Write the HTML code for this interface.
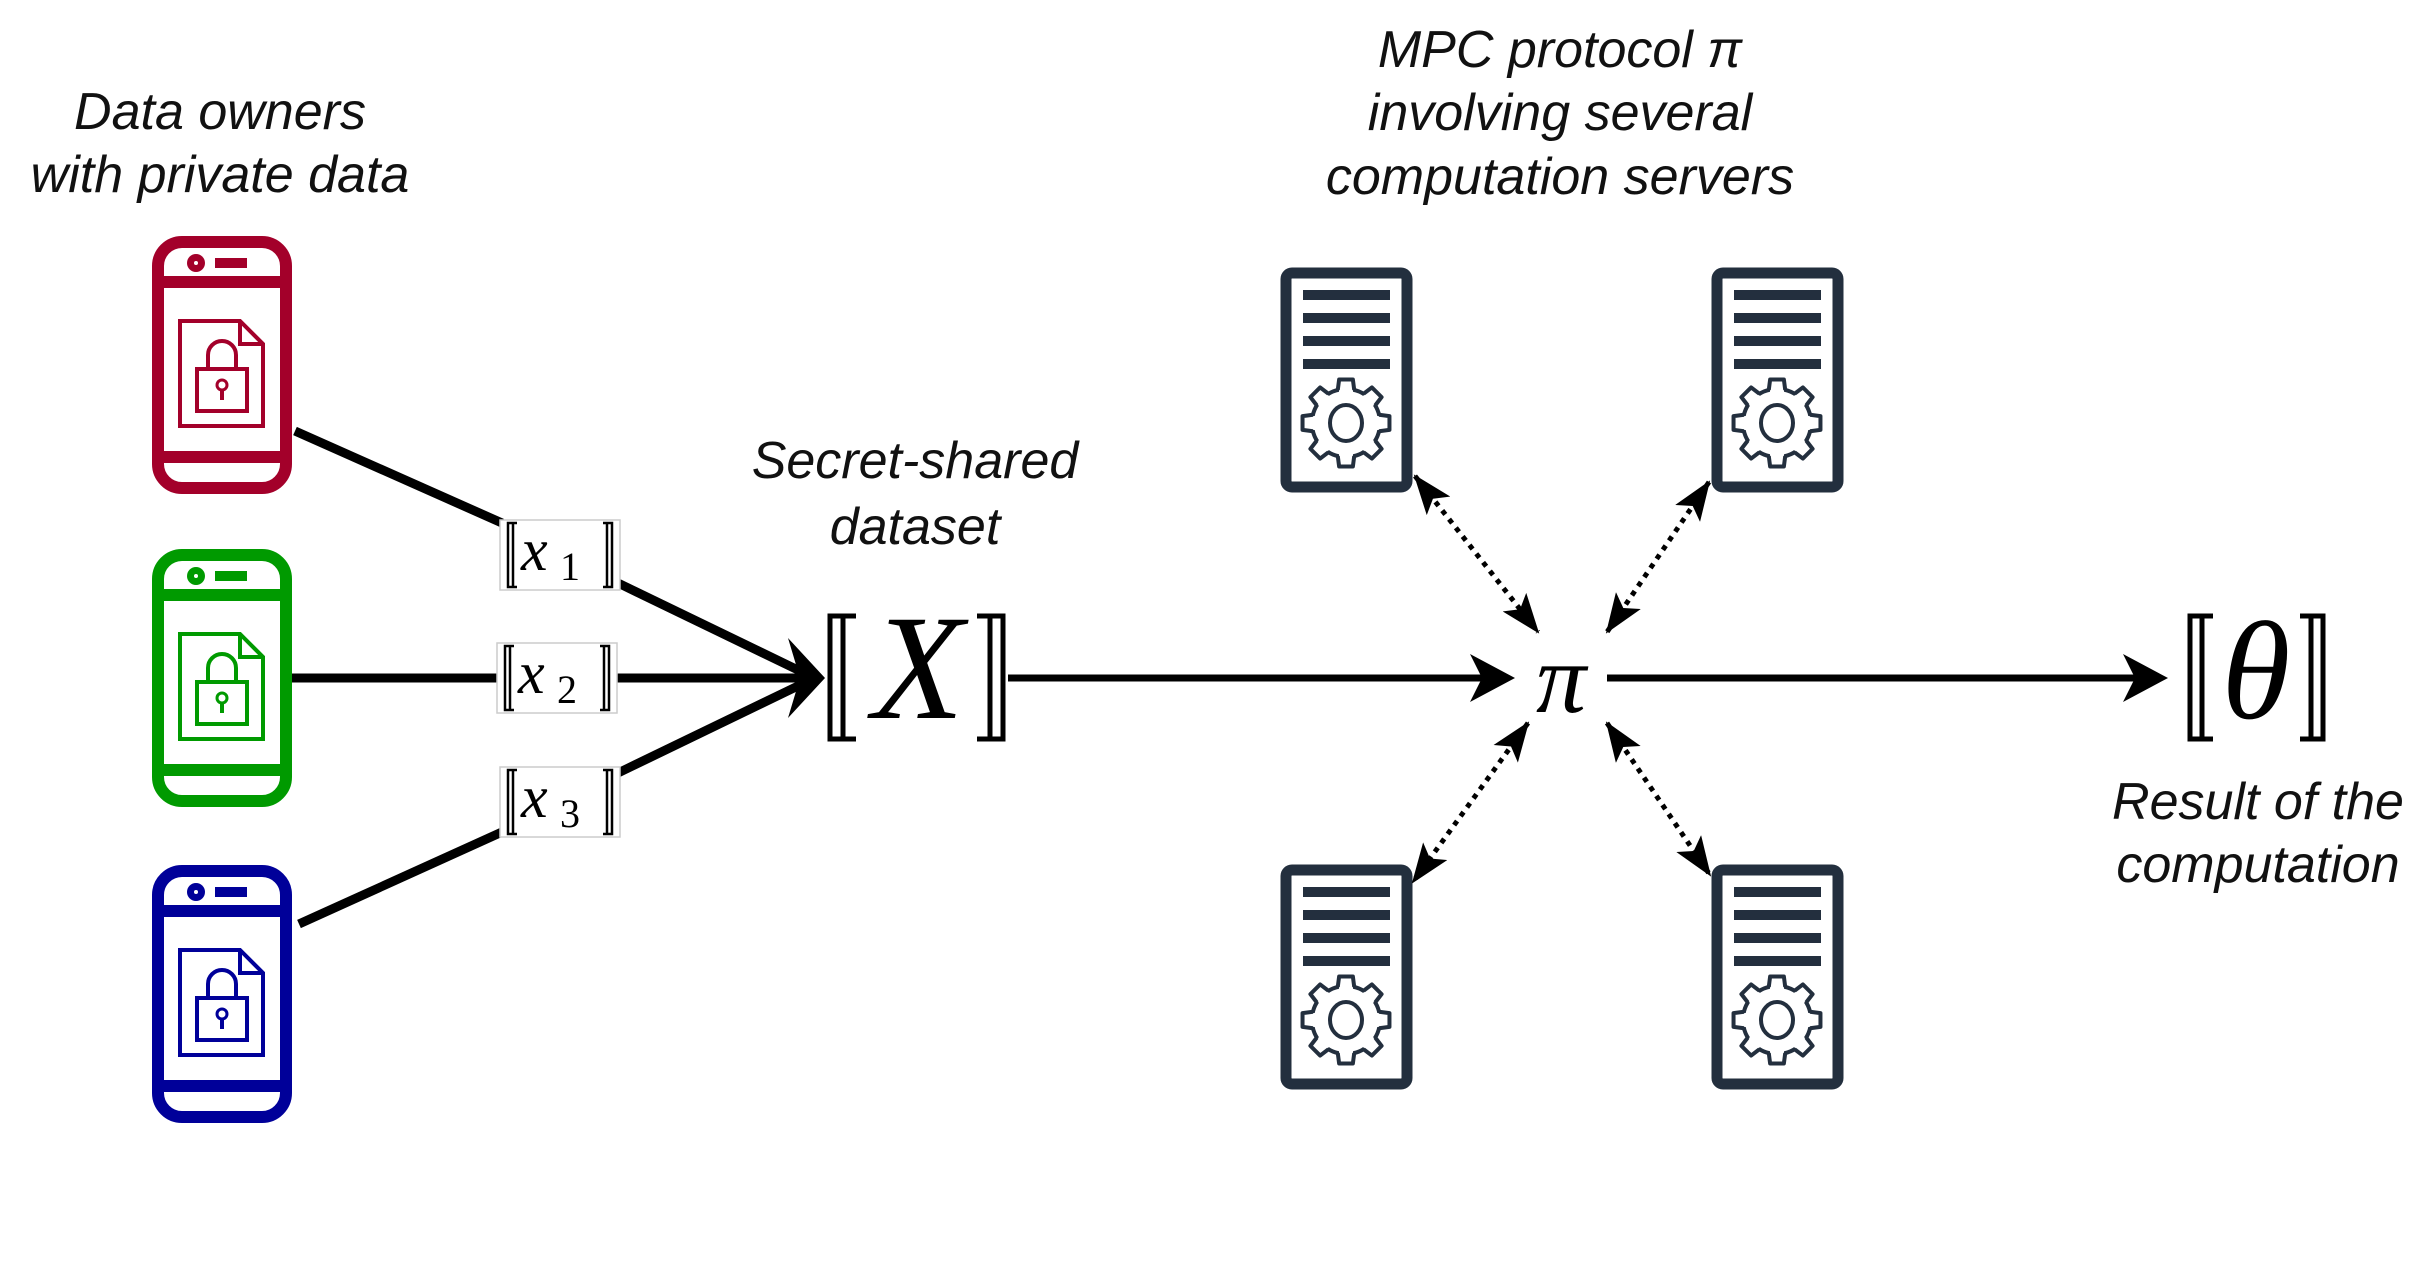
<!DOCTYPE html>
<html><head><meta charset="utf-8"><style>
html,body{margin:0;padding:0;background:#fff;}
svg{display:block;}
.lab{font-family:"Liberation Sans",sans-serif;font-style:italic;font-size:52px;fill:#111;}
.m{font-family:"Liberation Serif",serif;font-style:italic;fill:#000;}
</style></head><body>
<svg width="2432" height="1268" viewBox="0 0 2432 1268" xmlns="http://www.w3.org/2000/svg">
<defs>
<marker id="ah" viewBox="0 0 40 30" refX="38" refY="15" markerWidth="40" markerHeight="30" markerUnits="userSpaceOnUse" orient="auto-start-reverse">
<path d="M0,0 L40,15 L0,30 L9,15 Z" fill="#000"/>
</marker>
<g id="phone">
<rect x="6" y="6" width="128" height="246" rx="24" fill="none" stroke-width="12"/>
<line x1="0" y1="46" x2="140" y2="46" stroke-width="12"/>
<line x1="0" y1="221" x2="140" y2="221" stroke-width="12"/>
<circle cx="44" cy="27" r="9" stroke="none"/>
<circle cx="44" cy="27" r="2" fill="#fff" stroke="none"/>
<rect x="63" y="22" width="32" height="10" stroke="none"/>
<path d="M28,85 H88 L111,108 V190 H28 Z" fill="none" stroke-width="4"/>
<path d="M88,85 V108 H111" fill="none" stroke-width="4"/>
<rect x="45" y="133" width="50" height="42" fill="none" stroke-width="4"/>
<path d="M56,133 V119 A14,14 0 0 1 84,119 V133" fill="none" stroke-width="4"/>
<circle cx="70" cy="149" r="5" fill="none" stroke-width="3"/>
<line x1="70" y1="154" x2="70" y2="164" stroke-width="4"/>
</g>
<g id="tooth">
<rect x="29" y="-7" width="14" height="14" fill="#fff" stroke="none"/>
<path d="M32.99,-8.23 L43.46,-6.88 L43.46,6.88 L32.99,8.23" fill="none" stroke="#232f3e" stroke-width="4" stroke-linejoin="round"/>
</g>
<g id="server">
<rect x="6" y="6" width="121" height="214" rx="6" fill="#fff" stroke="#232f3e" stroke-width="11"/>
<g fill="#232f3e">
<rect x="23" y="23" width="87" height="10"/>
<rect x="23" y="46" width="87" height="10"/>
<rect x="23" y="69" width="87" height="10"/>
<rect x="23" y="92" width="87" height="10"/>
</g>
<g transform="translate(66,156)">
<circle r="34" fill="none" stroke="#232f3e" stroke-width="4"/>
<use href="#tooth" transform="rotate(-90)"/><use href="#tooth" transform="rotate(-45)"/>
<use href="#tooth" transform="rotate(0)"/><use href="#tooth" transform="rotate(45)"/>
<use href="#tooth" transform="rotate(90)"/><use href="#tooth" transform="rotate(135)"/>
<use href="#tooth" transform="rotate(180)"/><use href="#tooth" transform="rotate(225)"/>
<ellipse rx="16" ry="18" fill="none" stroke="#232f3e" stroke-width="4"/>
</g>
</g>
</defs>

<text class="lab" x="220" y="112" text-anchor="middle" dominant-baseline="central">Data owners</text>
<text class="lab" x="220" y="175" text-anchor="middle" dominant-baseline="central">with private data</text>
<text class="lab" x="915" y="461" text-anchor="middle" dominant-baseline="central">Secret-shared</text>
<text class="lab" x="915" y="527" text-anchor="middle" dominant-baseline="central">dataset</text>
<text class="lab" x="1560" y="50" text-anchor="middle" dominant-baseline="central">MPC protocol π</text>
<text class="lab" x="1560" y="113" text-anchor="middle" dominant-baseline="central">involving several</text>
<text class="lab" x="1560" y="177" text-anchor="middle" dominant-baseline="central">computation servers</text>
<text class="lab" x="2258" y="802" text-anchor="middle" dominant-baseline="central">Result of the</text>
<text class="lab" x="2258" y="865" text-anchor="middle" dominant-baseline="central">computation</text>

<use href="#phone" x="152" y="236" fill="#a3002a" stroke="#a3002a"/>
<use href="#phone" x="152" y="549" fill="#009a00" stroke="#009a00"/>
<use href="#phone" x="152" y="865" fill="#000099" stroke="#000099"/>

<g stroke="#000" stroke-width="9" fill="none">
<line x1="295" y1="431" x2="502" y2="523"/>
<line x1="618" y1="583" x2="800" y2="671"/>
<line x1="292" y1="678" x2="800" y2="678"/>
<line x1="299" y1="924" x2="502" y2="832"/>
<line x1="618" y1="773" x2="800" y2="685"/>
</g>
<path d="M825,678 L788,638 L800,678 L788,718 Z" fill="#000"/>

<g>
<rect x="500" y="520" width="120" height="70" fill="#fff" stroke="#ccc" stroke-width="1.5"/>
<rect x="497" y="643" width="120" height="70" fill="#fff" stroke="#ccc" stroke-width="1.5"/>
<rect x="500" y="767" width="120" height="70" fill="#fff" stroke="#ccc" stroke-width="1.5"/>
<g stroke="#000" stroke-width="2.5" fill="none">
<path d="M517,523 H508 V587 H517 M513,523 V587"/><path d="M603,523 H612 V587 H603 M607,523 V587"/>
<path d="M514,646 H505 V710 H514 M510,646 V710"/><path d="M600,646 H609 V710 H600 M604,646 V710"/>
<path d="M517,770 H508 V834 H517 M513,770 V834"/><path d="M603,770 H612 V834 H603 M607,770 V834"/>
</g>
<text class="m" x="521" y="570" font-size="60">x</text><text class="m" x="560" y="580" font-size="40" style="font-style:normal">1</text>
<text class="m" x="518" y="693" font-size="60">x</text><text class="m" x="557" y="703" font-size="40" style="font-style:normal">2</text>
<text class="m" x="521" y="817" font-size="60">x</text><text class="m" x="560" y="827" font-size="40" style="font-style:normal">3</text>
</g>

<g stroke="#000" stroke-width="5" fill="none">
<path d="M856,616 H830 V739 H856 M843,616 V739"/>
<path d="M977,616 H1003 V739 H977 M990,616 V739"/>
</g>
<text class="m" x="918" y="718" font-size="150" text-anchor="middle">X</text>

<line x1="1008" y1="678" x2="1490" y2="678" stroke="#000" stroke-width="7"/>
<path d="M1515,678 L1470,654 L1482,678 L1470,702 Z" fill="#000"/>
<text class="m" x="1561" y="712" font-size="100" text-anchor="middle">π</text>

<line x1="1607" y1="678" x2="2145" y2="678" stroke="#000" stroke-width="7"/>
<path d="M2168,678 L2123,654 L2135,678 L2123,702 Z" fill="#000"/>
<g stroke="#000" stroke-width="5" fill="none">
<path d="M2213,616 H2190 V739 H2213 M2202,616 V739"/>
<path d="M2300,616 H2323 V739 H2300 M2311,616 V739"/>
</g>
<text class="m" x="2256" y="718" font-size="140" text-anchor="middle">θ</text>

<use href="#server" x="1280" y="267"/>
<use href="#server" x="1711" y="267"/>
<use href="#server" x="1280" y="864"/>
<use href="#server" x="1711" y="864"/>

<g stroke="#000" stroke-width="5" stroke-dasharray="5 6" fill="none" marker-start="url(#ah)" marker-end="url(#ah)">
<line x1="1415" y1="476" x2="1538" y2="632"/>
<line x1="1709" y1="482" x2="1607" y2="632"/>
<line x1="1528" y1="723" x2="1413" y2="882"/>
<line x1="1607" y1="723" x2="1710" y2="875"/>
</g>
</svg>
</body></html>
